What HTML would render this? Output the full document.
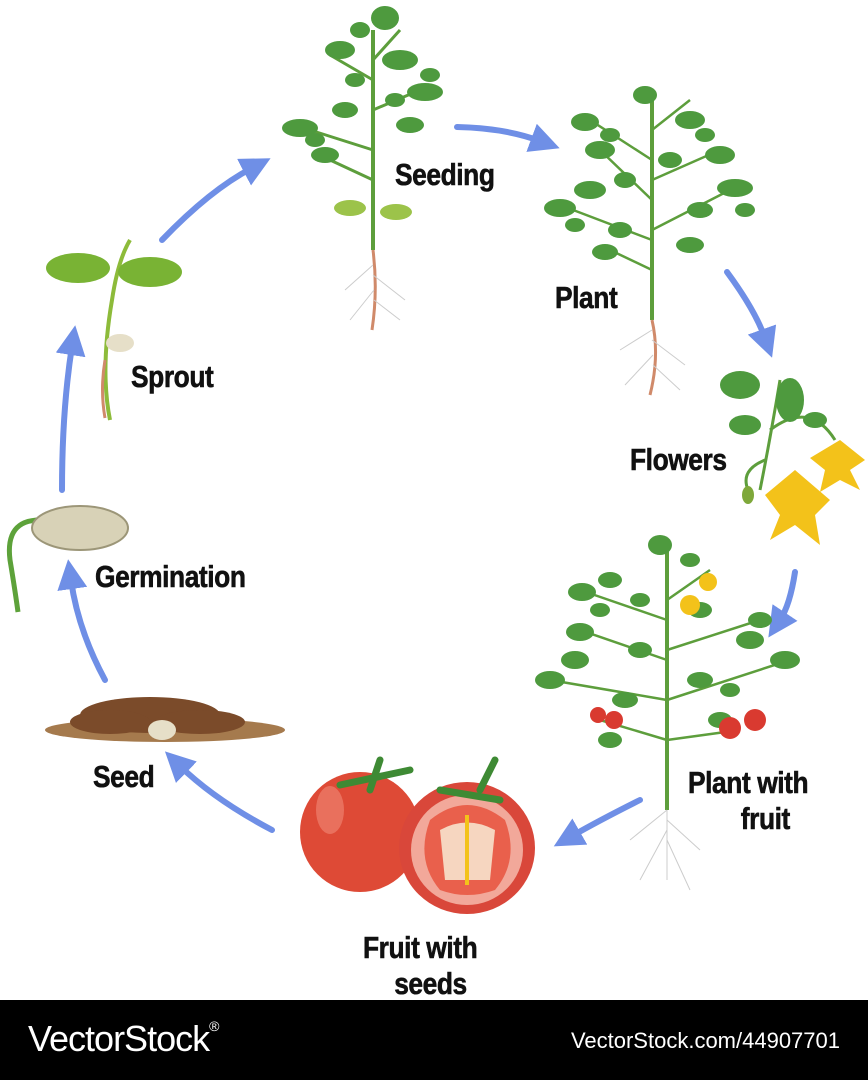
<!DOCTYPE html>
<html><head><meta charset="utf-8"><style>
html,body{margin:0;padding:0;background:#fff}
body{width:868px;height:1080px;position:relative;overflow:hidden;font-family:"Liberation Sans Narrow","Liberation Sans",sans-serif}
.l{position:absolute;font-weight:900;font-size:31px;color:#111;line-height:36px;text-align:center;transform:scaleX(0.85);transform-origin:left top;letter-spacing:-0.5px;-webkit-text-stroke:0.6px #111}
.bar{position:absolute;left:0;top:1000px;width:868px;height:80px;background:#000;color:#fff}
</style></head><body>
<svg width="868" height="1000" style="position:absolute;left:0;top:0">
<defs>
<marker id="ah" markerWidth="5" markerHeight="5" refX="1.5" refY="2.5" orient="auto"><path d="M0 0 L5 2.5 L0 5 Z" fill="#6f8fe6"/></marker>
</defs>
<g fill="none" stroke="#6f8fe6" stroke-width="6" stroke-linecap="round" marker-end="url(#ah)">
<path d="M162 240 Q210 190 252 168"/>
<path d="M457 127 Q505 128 540 141"/>
<path d="M727 272 Q755 310 765 338"/>
<path d="M795 572 Q790 605 780 620"/>
<path d="M640 800 Q600 820 572 836"/>
<path d="M272 830 Q215 800 180 766"/>
<path d="M105 680 Q78 630 71 580"/>
<path d="M62 490 Q62 410 72 346"/>
</g>
<!-- Seeding plant -->
<g>
<path d="M373 250 L373 30" stroke="#5d9e3c" stroke-width="4"/>
<path d="M373 150 L310 130 M373 110 L420 90 M373 80 L330 55 M373 60 L400 30 M373 180 L330 160" stroke="#5d9e3c" stroke-width="3"/>
<g fill="#4e9a3e">
<ellipse cx="300" cy="128" rx="18" ry="9"/><ellipse cx="325" cy="155" rx="14" ry="8"/><ellipse cx="425" cy="92" rx="18" ry="9"/><ellipse cx="340" cy="50" rx="15" ry="9"/><ellipse cx="385" cy="18" rx="14" ry="12"/><ellipse cx="400" cy="60" rx="18" ry="10"/><ellipse cx="410" cy="125" rx="14" ry="8"/><ellipse cx="345" cy="110" rx="13" ry="8"/>
<ellipse cx="355" cy="80" rx="10" ry="7"/><ellipse cx="395" cy="100" rx="10" ry="7"/><ellipse cx="315" cy="140" rx="10" ry="7"/><ellipse cx="360" cy="30" rx="10" ry="8"/><ellipse cx="430" cy="75" rx="10" ry="7"/>
</g>
<ellipse cx="350" cy="208" rx="16" ry="8" fill="#9cc34a"/><ellipse cx="396" cy="212" rx="16" ry="8" fill="#9cc34a"/>
<path d="M373 250 Q378 290 372 330" stroke="#d08a6a" stroke-width="3" fill="none"/>
<path d="M373 265 L345 290 M373 275 L405 300 M374 290 L350 320 M374 300 L400 320" stroke="#ccc" stroke-width="1"/>
</g>
<!-- Plant -->
<g>
<path d="M652 320 L652 95" stroke="#5d9e3c" stroke-width="4"/>
<path d="M652 270 L610 250 M652 240 L560 205 M652 200 L600 150 M652 160 L590 120 M652 230 L730 190 M652 180 L720 150 M652 130 L690 100" stroke="#5d9e3c" stroke-width="2.5"/>
<g fill="#4e9a3e">
<ellipse cx="560" cy="208" rx="16" ry="9"/><ellipse cx="590" cy="190" rx="16" ry="9"/><ellipse cx="600" cy="150" rx="15" ry="9"/><ellipse cx="585" cy="122" rx="14" ry="9"/><ellipse cx="620" cy="230" rx="12" ry="8"/><ellipse cx="605" cy="252" rx="13" ry="8"/><ellipse cx="735" cy="188" rx="18" ry="9"/><ellipse cx="700" cy="210" rx="13" ry="8"/><ellipse cx="720" cy="155" rx="15" ry="9"/><ellipse cx="690" cy="120" rx="15" ry="9"/><ellipse cx="645" cy="95" rx="12" ry="9"/><ellipse cx="670" cy="160" rx="12" ry="8"/><ellipse cx="625" cy="180" rx="11" ry="8"/><ellipse cx="690" cy="245" rx="14" ry="8"/>
<ellipse cx="575" cy="225" rx="10" ry="7"/><ellipse cx="745" cy="210" rx="10" ry="7"/><ellipse cx="610" cy="135" rx="10" ry="7"/><ellipse cx="705" cy="135" rx="10" ry="7"/>
</g>
<path d="M652 320 Q660 355 650 395" stroke="#d08a6a" stroke-width="3" fill="none"/>
<path d="M652 330 L620 350 M652 340 L685 365 M653 355 L625 385 M653 365 L680 390" stroke="#ccc" stroke-width="1"/>
</g>
<!-- Flowers -->
<g>
<path d="M780 380 Q770 440 760 490 M770 430 Q810 400 835 440 M765 460 Q740 470 748 490" stroke="#5d9e3c" stroke-width="3" fill="none"/>
<g fill="#4e9a3e"><ellipse cx="740" cy="385" rx="20" ry="14"/><ellipse cx="790" cy="400" rx="14" ry="22"/><ellipse cx="745" cy="425" rx="16" ry="10"/><ellipse cx="815" cy="420" rx="12" ry="8"/></g>
<g fill="#f3c21a"><path d="M840 440 L865 460 L850 470 L860 490 L840 480 L820 492 L825 470 L810 458 Z"/><path d="M795 470 L830 500 L815 515 L820 545 L795 525 L770 540 L780 515 L765 495 Z"/></g>
<ellipse cx="748" cy="495" rx="6" ry="9" fill="#7ea83a"/>
</g>
<!-- Plant with fruit -->
<g>
<path d="M667 810 L667 540" stroke="#5d9e3c" stroke-width="4"/>
<path d="M667 700 L550 680 M667 660 L580 630 M667 620 L580 590 M667 700 L790 660 M667 650 L760 620 M667 600 L710 570 M667 740 L600 720 M667 740 L740 730" stroke="#5d9e3c" stroke-width="2.5"/>
<g fill="#4e9a3e">
<ellipse cx="550" cy="680" rx="15" ry="9"/><ellipse cx="575" cy="660" rx="14" ry="9"/><ellipse cx="580" cy="632" rx="14" ry="9"/><ellipse cx="582" cy="592" rx="14" ry="9"/><ellipse cx="610" cy="580" rx="12" ry="8"/><ellipse cx="625" cy="700" rx="13" ry="8"/><ellipse cx="640" cy="650" rx="12" ry="8"/><ellipse cx="785" cy="660" rx="15" ry="9"/><ellipse cx="750" cy="640" rx="14" ry="9"/><ellipse cx="760" cy="620" rx="12" ry="8"/><ellipse cx="700" cy="680" rx="13" ry="8"/><ellipse cx="720" cy="720" rx="12" ry="8"/><ellipse cx="660" cy="545" rx="12" ry="10"/><ellipse cx="700" cy="610" rx="12" ry="8"/><ellipse cx="610" cy="740" rx="12" ry="8"/>
<ellipse cx="600" cy="610" rx="10" ry="7"/><ellipse cx="730" cy="690" rx="10" ry="7"/><ellipse cx="690" cy="560" rx="10" ry="7"/><ellipse cx="640" cy="600" rx="10" ry="7"/>
</g>
<g fill="#f3c21a"><circle cx="690" cy="605" r="10"/><circle cx="708" cy="582" r="9"/></g>
<g fill="#d93a30"><circle cx="598" cy="715" r="8"/><circle cx="614" cy="720" r="9"/><circle cx="730" cy="728" r="11"/><circle cx="755" cy="720" r="11"/></g>
<path d="M667 810 L630 840 M667 820 L700 850 M667 830 L640 880 M667 840 L690 890 M667 810 L667 880" stroke="#ccc" stroke-width="1"/>
</g>
<!-- Tomatoes -->
<g>
<ellipse cx="360" cy="832" rx="60" ry="60" fill="#de4a36"/>
<ellipse cx="330" cy="810" rx="14" ry="24" fill="#f08a78" opacity=".6"/>
<ellipse cx="467" cy="848" rx="68" ry="66" fill="#d9473a"/>
<ellipse cx="467" cy="850" rx="56" ry="55" fill="#f2a89a"/>
<path d="M430 820 Q467 790 505 820 Q520 860 495 890 Q467 900 440 890 Q415 860 430 820 Z" fill="#e9604c"/>
<path d="M440 830 Q467 815 495 830 L490 880 L445 880 Z" fill="#f6d6c0"/>
<path d="M467 815 L467 885" stroke="#f3c21a" stroke-width="4"/>
<path d="M340 785 L410 770 M380 760 L370 790 M440 790 L500 800 M495 760 L480 790" stroke="#3e8a34" stroke-width="7" stroke-linecap="round"/>
</g>
<!-- Seed soil -->
<g fill="#7b4b2a">
<ellipse cx="165" cy="730" rx="120" ry="12" fill="#a57a4d"/>
<ellipse cx="150" cy="715" rx="70" ry="18"/><ellipse cx="110" cy="722" rx="40" ry="12"/><ellipse cx="200" cy="722" rx="45" ry="12"/>
<ellipse cx="162" cy="730" rx="14" ry="10" fill="#e6dfc8"/>
</g>
<!-- Germination -->
<g>
<path d="M40 520 Q5 520 10 560 Q15 590 18 612" stroke="#5da23a" stroke-width="5" fill="none"/>
<ellipse cx="80" cy="528" rx="48" ry="22" fill="#d8d2b7" stroke="#9c9678" stroke-width="2"/>
</g>
<!-- Sprout -->
<g>
<path d="M110 420 Q100 370 112 300 Q118 260 130 240" stroke="#8dbb3a" stroke-width="4" fill="none"/>
<ellipse cx="78" cy="268" rx="32" ry="15" fill="#79b334"/><ellipse cx="150" cy="272" rx="32" ry="15" fill="#79b334"/>
<ellipse cx="120" cy="343" rx="14" ry="9" fill="#e6dfc8"/>
<path d="M105 360 Q100 390 105 418" stroke="#d08a6a" stroke-width="3" fill="none"/>
</g>
</svg>
<div class="l" style="left:395px;top:157px">Seeding</div>
<div class="l" style="left:555px;top:280px">Plant</div>
<div class="l" style="left:630px;top:442px">Flowers</div>
<div class="l" style="left:688px;top:765px">Plant with<br>&nbsp;&nbsp;&nbsp;&nbsp;&nbsp;fruit</div>
<div class="l" style="left:363px;top:930px">Fruit with<br>&nbsp;&nbsp;&nbsp;seeds</div>
<div class="l" style="left:93px;top:759px">Seed</div>
<div class="l" style="left:95px;top:559px">Germination</div>
<div class="l" style="left:131px;top:359px">Sprout</div>
<div class="bar">
<div style="position:absolute;left:28px;top:18px;font-family:'Liberation Sans',sans-serif;font-size:36px;letter-spacing:-1px">VectorStock<span style="font-size:14px;vertical-align:top">®</span></div>
<div style="position:absolute;right:28px;top:28px;font-family:'Liberation Sans',sans-serif;font-size:22px">VectorStock.com/44907701</div>
</div>
</body></html>
